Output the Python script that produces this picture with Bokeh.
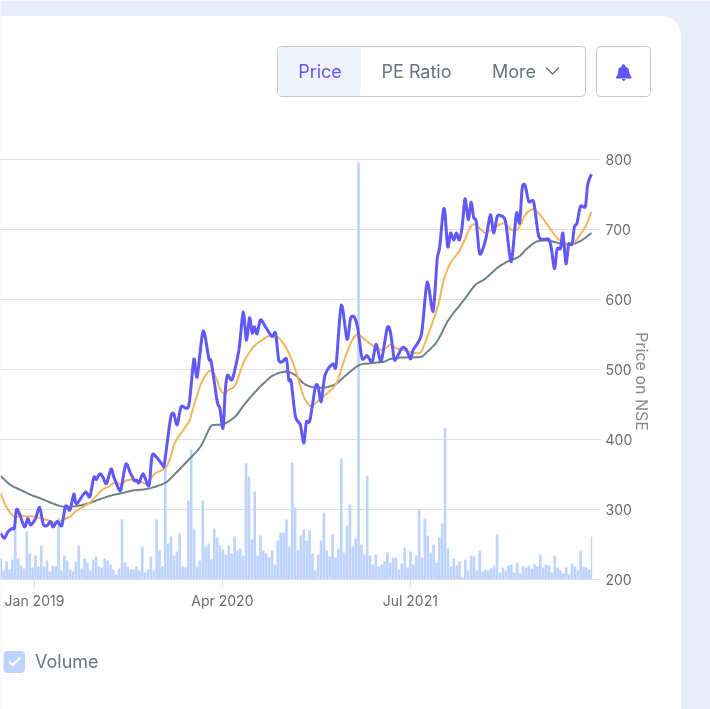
import math
import pandas as pd
from bokeh.plotting import figure
from bokeh.models import (BoxAnnotation, DatetimeAxis, FixedTicker, Label,
                          LinearAxis, PolyAnnotation, Range1d)
from bokeh.embed import file_html
from bokeh.resources import INLINE

# ---- data ------------------------------------------------------------------
first_week = "2018-10-13"
first_volume_week = "2018-10-11 12:00"
volume = [21,9,18,10,20,53,21,14,11,48,26,12,24,13,34,13,19,8,14,13,62,9,24,19,10,8,18,34,11,21,
          17,9,20,23,13,12,21,19,15,10,5,11,60,17,13,10,10,13,9,33,7,10,23,9,60,29,13,113,36,43,
          24,28,46,13,12,79,130,50,13,19,79,33,36,20,51,42,34,30,25,34,26,43,29,31,24,116,103,40,88,24,
          44,29,26,22,29,15,39,47,47,60,33,117,72,29,
          44,50,39,49,26,9,25,39,67,29,23,45,22,31,121,27,54,75,33,41,417,35,25,104,24,15,25,13,15,18,
          27,17,22,22,10,16,32,12,28,15,24,70,22,61,44,27,35,17,42,56,152,31,13,21,14,18,2,20,9,24,
          23,9,29,8,10,9,11,14,45,7,12,9,14,15,7,17,6,13,12,14,11,15,13,25,12,15,14,7,24,12,
          9,6,12,5,16,13,9,29,13,12,10,43]

price_weeks = [-0.3,1.0,2.2,3.7,4.5,5.2,6.3,8.0,9.1,10.1,11.8,13.2,14.5,15.8,17.0,17.9,19.3,20.9,22.2,23.7,
               25.1,26.0,29.1,30.6,32.0,32.9,34.1,35.2,36.4,38.0,38.9,40.7,41.5,43.1,44.7,46.1,46.8,47.7,49.1,51.1,
               52.2,53.7,56.0,56.5,58.6,59.7,60.9,62.3,64.9,66.7,67.8,69.9,71.9,72.7,74.8,75.7,76.8,77.6,78.4,80.0,
               82.3,83.8,84.9,86.0,86.9,87.7,88.6,89.8,91.5,93.8,95.0,96.1,97.3,98.8,99.6,100.4,101.9,103.6,104.8,105.7,
               106.9,108.8,109.8,110.8,112.0,113.4,115.0,116.0,117.8,119.8,121.0,122.3,123.5,125.0,126.7,128.5,129.9,131.6,133.7,134.8,
               136.0,136.6,138.9,140.4,141.8,142.7,144.6,145.8,147.6,149.6,151.0,151.9,153.1,153.7,154.7,155.7,156.8,157.7,158.7,159.7,
               160.7,161.8,162.8,163.7,164.6,165.8,167.8,169.5,170.6,171.8,172.7,174.7,176.7,178.5,179.6,180.5,181.5,182.8,184.5,186.2,
               188.0,189.7,190.6,191.7,192.6,193.8,194.6,195.7,196.6,197.8,198.6,199.5,200.7,202.4,203.2,204.5]
price = [266,259,268,273,274,300,293,275,287,278,287,303,279,277,283,275,283,277,305,299,
         322,308,325,318,346,343,351,346,337,358,347,329,330,365,352,341,342,338,351,334,
         377,375,363,366,430,437,421,447,448,515,489,555,515,511,454,445,416,471,492,486,
         528,582,542,574,552,561,551,571,561,547,552,514,511,515,485,483,433,421,395,425,
         427,475,475,454,489,502,508,506,592,543,573,575,559,516,520,511,536,512,559,554,
         518,514,531,528,515,528,540,556,625,583,656,675,725,725,675,695,685,695,685,704,
         744,714,739,717,711,665,685,721,695,718,720,712,654,723,709,759,763,740,739,691,
         686,686,673,644,672,673,695,651,679,679,704,709,733,733,764,779]

avg_short_weeks = [-0.3,1.4,3.1,4.9,6.6,8.9,11.2,15.8,18.1,21.0,23.9,25.6,30.3,32.6,34.9,37.2,39.5,41.5,43.6,47.0,
                   50.5,53.0,56.8,58.6,60.3,64.9,66.1,69.0,71.3,73.0,74.5,75.9,77.3,78.8,81.1,84.0,87.5,90.4,92.7,95.6,
                   98.4,100.4,102.5,104.8,107.1,109.4,112.3,115.8,118.1,119.2,121.6,123.5,126.2,129.1,132.0,134.8,137.2,141.8,145.2,147.0,
                   149.3,151.6,153.3,155.6,158.5,160.8,162.6,164.3,167.8,170.6,174.1,177.0,179.3,181.6,184.5,188.0,192.6,196.1,198.4,202.4,204.5]
avg_short = [323,306,295,289,291,290,290,285,281,285,290,297,309,318,328,333,339,336,342,342,
             337,351,359,375,397,425,440,478,495,498,487,471,465,471,478,511,533,542,548,547,
             533,516,492,461,448,454,464,478,504,518,542,550,542,533,528,535,530,525,524,540,
             566,595,628,652,668,687,704,707,695,702,709,699,702,721,729,714,688,680,681,704,725]

avg_long_weeks = [-0.3,3.1,6.6,10.1,13.5,18.1,21.6,26.2,30.3,34.3,38.9,42.4,45.3,51.1,56.8,59.7,64.9,69.0,72.4,74.2,
                  77.1,81.1,84.0,88.6,93.2,96.1,99.0,101.9,104.8,107.7,111.7,115.8,119.2,123.8,127.9,132.5,134.8,138.3,145.2,147.0,
                  151.0,155.0,160.8,164.3,167.8,171.8,175.3,179.3,182.2,185.7,189.7,193.8,197.8,201.3,204.5]
avg_long = [348,335,328,321,316,308,304,305,309,315,321,324,327,330,338,349,371,390,418,421,
            422,433,449,471,489,495,497,492,480,475,474,479,491,506,509,511,515,517,518,523,
            540,571,602,621,630,645,654,661,673,683,684,680,679,685,695]

x_tick_dates = ["2019-01-01", "2020-04-01", "2021-07-01"]
x_tick_labels = ["Jan 2019", "Apr 2020", "Jul 2021"]
y_ticks = [200, 300, 400, 500, 600, 700, 800]

# ---- helpers ---------------------------------------------------------------
FONT = "Inter"
BLUE = "#6059f7"
TEXT = "#6b7280"
DAY = 86400000.0
start_ms = pd.Timestamp(first_week).value / 1e6
vol_start_ms = pd.Timestamp(first_volume_week).value / 1e6

def when(weeks):
    return [start_ms + 7 * w * DAY for w in weeks]

def rounded(xs, ys, steps=6):
    """Draw through the read points with a cardinal curve, as the original line does."""
    out_x, out_y = [], []
    n = len(xs)
    for i in range(n - 1):
        a, b = max(i - 1, 0), min(i + 2, n - 1)
        dx0, dy0 = (xs[i + 1] - xs[a]) * 0.4, (ys[i + 1] - ys[a]) * 0.4
        dx1, dy1 = (xs[b] - xs[i]) * 0.4, (ys[b] - ys[i]) * 0.4
        for k in range(steps):
            t = k / steps
            h00, h10 = 2*t**3 - 3*t**2 + 1, t**3 - 2*t**2 + t
            h01, h11 = -2*t**3 + 3*t**2, t**3 - t**2
            out_x.append(h00*xs[i] + h10*dx0 + h01*xs[i+1] + h11*dx1)
            out_y.append(h00*ys[i] + h10*dy0 + h01*ys[i+1] + h11*dy1)
    out_x.append(xs[-1]); out_y.append(ys[-1])
    return out_x, out_y

x_lo = start_ms - 2.4 * DAY
x_end = x_lo + 1456 * DAY          # end of the plotting band
x_hi = x_lo + 1722.9 * DAY         # right side of the page

p = figure(width=710, height=709, output_backend="svg", toolbar_location=None,
           x_axis_type="datetime", x_axis_location=None, y_axis_location=None,
           x_range=Range1d(x_lo, x_hi), y_range=Range1d(14.3, 1027.15),
           frame_width=710, frame_height=709,
           min_border_left=0, min_border_right=0, min_border_top=0, min_border_bottom=0)
p.styles = {"position": "fixed", "left": "0", "top": "0"}
p.outline_line_color = None
p.border_fill_color = "#e9edf7"
p.background_fill_color = "#e9edf7"
p.xgrid.visible = False
p.ygrid.visible = False

def box(l, r, t, b, fill, line=None, radius=0, level="annotation"):
    p.add_layout(BoxAnnotation(left=l, right=r, top=t, bottom=b, left_units="canvas", right_units="canvas",
                               top_units="canvas", bottom_units="canvas", fill_color=fill, fill_alpha=1,
                               line_color=line, line_alpha=1, line_width=1, border_radius=radius, level=level))

def text(t, x, y, size, color, align="left", angle=0):
    p.add_layout(Label(x=x, y=y, x_units="canvas", y_units="canvas", text=t, text_font=FONT,
                       text_font_size=size, text_color=color, text_align=align, text_baseline="middle",
                       angle=angle))

def poly(xs, ys, color):
    p.add_layout(PolyAnnotation(xs=xs, ys=ys, xs_units="canvas", ys_units="canvas", fill_color=color,
                                fill_alpha=1, line_color=None))

# card
box(-40, 680.5, 15.5, 760, "#ffffff", None, 20, level="image")

# axes
ticks = [pd.Timestamp(d).value / 1e6 for d in x_tick_dates]
ax = DatetimeAxis(fixed_location=200, ticker=FixedTicker(ticks=ticks), bounds=(x_lo, x_end),
                  major_label_overrides=dict(zip(ticks, x_tick_labels)),
                  minor_tick_line_color=None, major_tick_in=0, major_tick_out=8,
                  major_tick_line_color="#dcdcdc", axis_line_color="#dddddd",
                  major_label_text_font=FONT, major_label_text_font_size="14px",
                  major_label_text_color="#6b6b6b", major_label_standoff=4)
p.add_layout(ax, "below")
ay = LinearAxis(fixed_location=x_end, ticker=FixedTicker(ticks=y_ticks), axis_line_color=None,
                major_tick_line_color=None, minor_tick_line_color=None, major_tick_out=0, major_tick_in=0,
                major_label_text_font=FONT, major_label_text_font_size="14px",
                major_label_text_color="#6b6b6b", major_label_standoff=5)
p.add_layout(ay, "right")
p.segment(x0=[x_lo] * len(y_ticks), x1=[x_end] * len(y_ticks), y0=y_ticks, y1=y_ticks,
          line_color="#e0e0e0", line_width=1, level="underlay")

# series: the last bar is cut at the end of the price line, as in the original
p.extra_y_ranges = {"vol": Range1d(-130, 579)}
bar_x = [vol_start_ms + 7 * i * DAY for i in range(len(volume))]
clip_at = when([204.75])[0]
p.quad(left=[x - 3.25 * DAY for x in bar_x], right=[min(x + 3.25 * DAY, clip_at) for x in bar_x],
       top=volume, bottom=[0] * len(volume), y_range_name="vol", fill_color="#bfd4fd", line_color=None)
for wk, vals, col, lw in [(avg_long_weeks, avg_long, "#6f7f8a", 2),
                          (avg_short_weeks, avg_short, "#f3b65c", 2),
                          (price_weeks, price, BLUE, 3)]:
    sx, sy = rounded(when(wk), vals)
    p.line(sx, sy, line_color=col, line_width=lw, line_join="round")

text("Price on NSE", 641, 381, "16px", "#8a8a8a", "center", -math.pi / 2)

# top controls
box(277, 585, 46, 96, "#ffffff", "#c8c8c8", 4)
box(277.5, 360.5, 46.5, 95.5, "#f3f3ff", None, 3)
box(596, 650, 46, 96, "#ffffff", "#c8c8c8", 4)
text("Price", 319.5, 71, "18px", BLUE, "center")
text("PE Ratio", 381, 71, "18px", TEXT)
text("More", 491.5, 71, "18px", TEXT)
poly([546, 552, 558, 559, 552, 545], [66.5, 72.5, 66.5, 67.5, 74.5, 67.5], TEXT)
poly([623, 624.5, 625, 628, 629, 631, 631, 615.5, 615.5, 617.5, 618, 621, 621.5],
     [63.5, 64.5, 66, 68, 73, 77, 78, 78, 77, 73, 68, 66, 64.5], BLUE)
poly([621, 625.5, 623.2], [78.5, 78.5, 81], BLUE)

# legend
box(3, 24.5, 650.5, 672.5, "#bfd4fd", None, 4)
poly([8, 9.5, 12, 19, 20.5, 12], [662, 660.5, 663, 656.5, 658, 666], "#ffffff")
text("Volume", 34.5, 661, "18px", TEXT)

open("out.html", "w").write(file_html(p, INLINE))
